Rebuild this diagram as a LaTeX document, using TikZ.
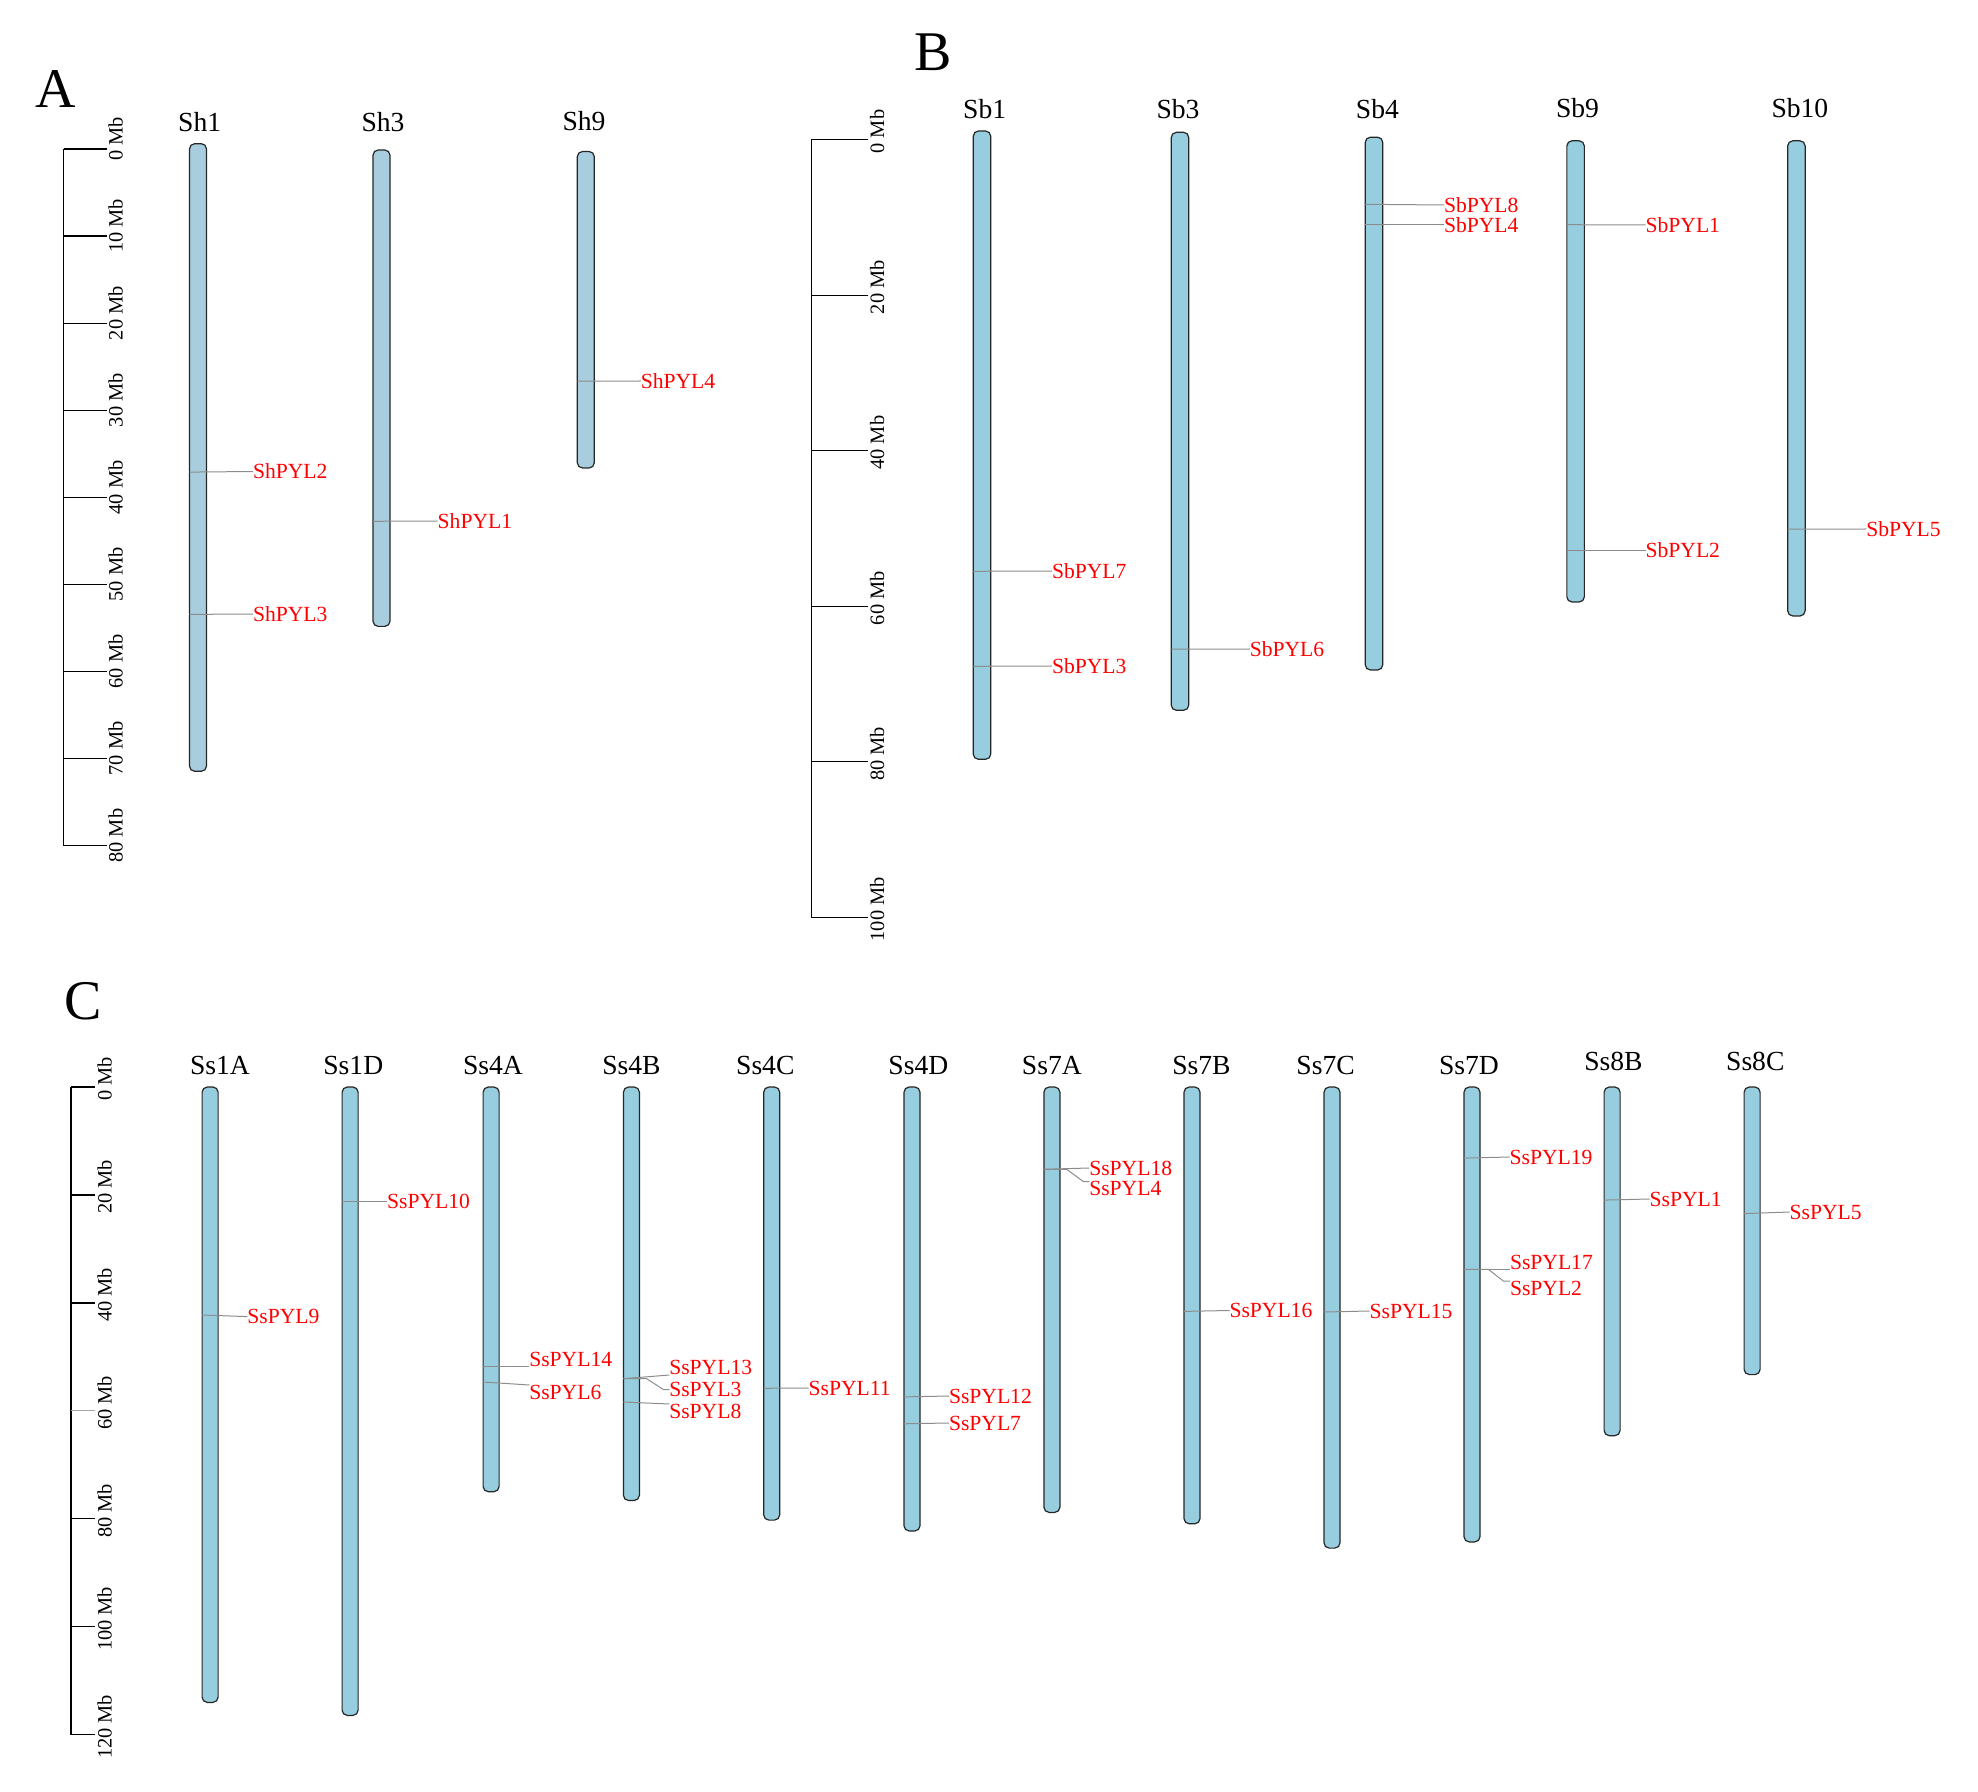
\documentclass[tikz,border=0pt]{standalone}
\usepackage{fontspec}
\setmainfont{Liberation Serif}
\definecolor{chrA}{RGB}{168,205,222}
\definecolor{chrB}{RGB}{150,206,224}
\definecolor{geneRed}{RGB}{255,0,0}
\tikzset{
  chrbase/.style={draw=black!85, line width=0.6pt, rounded corners=2.6pt, inner sep=0pt, outer sep=0pt, anchor=north},
  chrAstyle/.style={chrbase, fill=chrA, minimum width=8.5pt},
  chrBstyle/.style={chrbase, fill=chrB, minimum width=8.75pt},
  chrCstyle/.style={chrbase, fill=chrB, minimum width=8pt},
  chrlab/.style={font=\fontsize{13.8}{16}\selectfont, inner sep=0pt},
  genelab/.style={font=\fontsize{10.8}{12}\selectfont, text=geneRed, inner sep=0pt, outer sep=0pt},
  conn/.style={draw=black!45, line width=0.5pt},
  axisline/.style={line width=0.6pt, draw=black},
  axislab/.style={font=\fontsize{10.2}{12}\selectfont, rotate=90, anchor=north, inner sep=0pt},
  panellab/.style={font=\fontsize{28}{32}\selectfont, inner sep=0pt},
}
% #1 name, #2 style, #3 x, #4 top, #5 bottom, #6 label x, #7 label y, #8 text
\newcommand{\chromo}[8]{%
  \node[#2, minimum height={(#5-#4)*0.5pt}] (#1) at (#3,#4) {};
  \node[chrlab] (#1-lab) at (#6,#7) {#8};
}
% #1 name/text, #2 chromosome, #3 y on chromosome, #4 anchor, #5 label x, #6 label y
\newcommand{\gene}[6]{%
  \coordinate (#1-s) at (#2.west |- 0,#3);
  \node[genelab, anchor=#4] (#1) at (#5,#6) {#1};
  \draw[conn] (#1-s) -- (#1.#4);
}
\begin{document}
\begin{tikzpicture}[x=0.5pt, y=-0.5pt]
\useasboundingbox (0,0) rectangle (1978,1792);

% ================= Panel A =================
\node[panellab] (labA) at (56,89) {A};
\draw[axisline] (63.5,149) -- (63.5,845.6);
\foreach \k in {0,...,8}{
  \pgfmathsetmacro\ty{149+87.08*\k}
  \draw[axisline] (63.5,\ty) -- (107,\ty);
  \node[axislab] (axA\k) at (108,\ty-10) {\number\numexpr\k*10\relax\ Mb};
}
\chromo{Sh1}{chrAstyle}{198}{143.7}{771.3}{199.7}{121.7}{Sh1}
\chromo{Sh3}{chrAstyle}{381.5}{150}{626.4}{383}{121.7}{Sh3}
\chromo{Sh9}{chrAstyle}{585.8}{151.5}{468}{584}{121}{Sh9}
\gene{ShPYL2}{Sh1}{472.1}{west}{253}{471.5}
\gene{ShPYL3}{Sh1}{614.4}{west}{253}{614}
\gene{ShPYL1}{Sh3}{521.3}{west}{437.7}{521}
\gene{ShPYL4}{Sh9}{381.1}{west}{640.8}{381}

% ================= Panel B =================
\node[panellab] (labB) at (933,52) {B};
\draw[axisline] (811.3,139.6) -- (811.3,917.3);
\foreach \k in {0,...,5}{
  \pgfmathsetmacro\ty{139.6+155.54*\k}
  \draw[axisline] (811.3,\ty) -- (868,\ty);
  \node[axislab] (axB\k) at (869.5,\ty-8) {\number\numexpr\k*20\relax\ Mb};
}
\chromo{Sb1}{chrBstyle}{982}{131}{759.3}{984.7}{109}{Sb1}
\chromo{Sb3}{chrBstyle}{1180}{132.3}{710.3}{1178}{109}{Sb3}
\chromo{Sb4}{chrBstyle}{1374}{137.2}{670}{1377.4}{109}{Sb4}
\chromo{Sb9}{chrBstyle}{1575.6}{140.8}{602}{1577.5}{108}{Sb9}
\chromo{Sb10}{chrBstyle}{1796.4}{140.8}{616}{1799.9}{108}{Sb10}
\gene{SbPYL8}{Sb4}{204.3}{west}{1444}{205}
\gene{SbPYL4}{Sb4}{225}{west}{1444}{225}
\gene{SbPYL1}{Sb9}{224.7}{west}{1645.6}{225}
\gene{SbPYL2}{Sb9}{550.5}{west}{1645.6}{550.5}
\gene{SbPYL5}{Sb10}{529.1}{west}{1866.3}{529}
\gene{SbPYL7}{Sb1}{571.3}{west}{1052}{571}
\gene{SbPYL3}{Sb1}{666.3}{west}{1052}{666}
\gene{SbPYL6}{Sb3}{649.1}{west}{1249.8}{649}

% ================= Panel C =================
\node[panellab] (labC) at (83,1001) {C};
\draw[axisline] (71,1087) -- (71,1735);
\foreach \k in {0,...,6}{
  \pgfmathsetmacro\ty{1087+107.97*\k}
  \ifnum\k=3
    \draw[line width=0.5pt, draw=black!35] (71,\ty) -- (95,\ty);
  \else
    \draw[axisline] (71,\ty) -- (95,\ty);
  \fi
  \node[axislab] (axC\k) at (97,\ty-8) {\number\numexpr\k*20\relax\ Mb};
}
\chromo{Ss1A}{chrCstyle}{210.1}{1087}{1702.4}{220}{1065.4}{Ss1A}
\chromo{Ss1D}{chrCstyle}{350.1}{1087}{1715.4}{353.3}{1065.4}{Ss1D}
\chromo{Ss4A}{chrCstyle}{491.1}{1087}{1491.7}{493}{1065.4}{Ss4A}
\chromo{Ss4B}{chrCstyle}{631.4}{1087}{1500.5}{631.4}{1065.4}{Ss4B}
\chromo{Ss4C}{chrCstyle}{771.7}{1087}{1520.1}{765.3}{1065.4}{Ss4C}
\chromo{Ss4D}{chrCstyle}{912}{1087}{1531}{918.4}{1065.4}{Ss4D}
\chromo{Ss7A}{chrCstyle}{1051.9}{1087}{1512.4}{1051.9}{1065.4}{Ss7A}
\chromo{Ss7B}{chrCstyle}{1192}{1087}{1523.8}{1201.5}{1065.4}{Ss7B}
\chromo{Ss7C}{chrCstyle}{1332}{1087}{1548.1}{1325.6}{1065.4}{Ss7C}
\chromo{Ss7D}{chrCstyle}{1472}{1087}{1541.9}{1468.9}{1065.4}{Ss7D}
\chromo{Ss8B}{chrCstyle}{1612.1}{1087}{1435.7}{1613.4}{1061.3}{Ss8B}
\chromo{Ss8C}{chrCstyle}{1752.1}{1087}{1374.6}{1755.3}{1061.3}{Ss8C}

\gene{SsPYL9}{Ss1A}{1315}{west}{247.4}{1316.6}
\gene{SsPYL10}{Ss1D}{1201.6}{west}{387.1}{1201.6}
\gene{SsPYL14}{Ss4A}{1366}{base west}{529.3}{1366}
\gene{SsPYL6}{Ss4A}{1382}{north west}{529.3}{1385}
\gene{SsPYL13}{Ss4B}{1378.7}{south west}{669.3}{1375}
% SsPYL3 with bent connector
\coordinate (SsPYL3-s) at (Ss4B.west |- 0,1378.7);
\node[genelab, anchor=west] (SsPYL3) at (669.3,1389.5) {SsPYL3};
\draw[conn] (SsPYL3-s) -- (646.7,1378.7) -- (663.3,1389.5) -- (SsPYL3.west);
\gene{SsPYL8}{Ss4B}{1402}{north west}{669.3}{1404}
\gene{SsPYL11}{Ss4C}{1388.3}{west}{808.7}{1388}
\gene{SsPYL12}{Ss4D}{1396.9}{west}{949}{1396}
\gene{SsPYL7}{Ss4D}{1423.8}{west}{949}{1423}
\gene{SsPYL18}{Ss7A}{1169.3}{west}{1089.3}{1168}
% SsPYL4 with bent connector
\coordinate (SsPYL4-s) at (Ss7A.west |- 0,1169.3);
\node[genelab, anchor=north west] (SsPYL4) at (1089.3,1181.5) {SsPYL4};
\draw[conn] (SsPYL4-s) -- (1066.7,1169.3) -- (1083.3,1181.5) -- (SsPYL4.north west);
\gene{SsPYL16}{Ss7B}{1311.4}{west}{1229.5}{1310.5}
\gene{SsPYL15}{Ss7C}{1312}{west}{1369.6}{1311}
\gene{SsPYL19}{Ss7D}{1158.1}{west}{1509.6}{1157}
\gene{SsPYL17}{Ss7D}{1269.3}{base west}{1510}{1269.3}
% SsPYL2 with bent connector
\coordinate (SsPYL2-s) at (Ss7D.west |- 0,1269.3);
\node[genelab, anchor=north west] (SsPYL2) at (1510,1281) {SsPYL2};
\draw[conn] (SsPYL2-s) -- (1488.3,1269.3) -- (1503.3,1281) -- (SsPYL2.north west);
\gene{SsPYL1}{Ss8B}{1200.1}{west}{1649.6}{1199}
\gene{SsPYL5}{Ss8C}{1213.6}{west}{1789.7}{1212}
\end{tikzpicture}
\end{document}
